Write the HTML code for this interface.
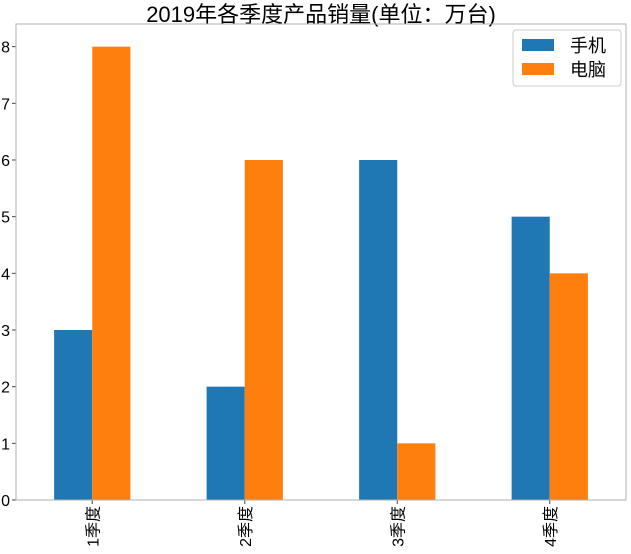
<!DOCTYPE html>
<html><head><meta charset="utf-8"><style>
body{margin:0;background:#fff;}
svg text{font-family:"Liberation Sans","Noto Sans CJK SC",sans-serif;fill:#000;}
</style></head><body>
<svg id="chart" width="631" height="549" xmlns="http://www.w3.org/2000/svg">
<text x="321" y="22" font-size="22" text-anchor="middle">2019年各季度产品销量(单位：万台)</text>
<g id="bars"></g>
<g id="yticks"></g>
<g id="xticks"></g>
<rect x="16" y="24" width="610" height="476" fill="none" stroke="#b0b0b0" stroke-width="1"/>
<g>
<rect x="513" y="30" width="108" height="56" fill="#fff" stroke="#ccc" rx="3"/>
<g><rect x="522" y="39" width="32" height="12" fill="#1f77b4"/><text x="570" y="52" font-size="18">手机</text></g>
<g><rect x="522" y="63" width="32" height="12" fill="#ff7f0e"/><text x="570" y="76" font-size="18">电脑</text></g>
</g>
</svg>
<script>
const categories=["1季度","2季度","3季度","4季度"];
const phone=[3,2,6,5];
const computer=[8,6,1,4];
const yTicks=[0,1,2,3,4,5,6,7,8];
const NS="http://www.w3.org/2000/svg";
const L=16,R=626,T=24,B=500,yMax=8.4;
const xs=i=>L+(i+0.5)*(R-L)/categories.length;
const ys=v=>B-v/yMax*(B-T);
const unit=(R-L)/categories.length;
const bw=unit*0.25;
function mk(tag,attrs,parent){const e=document.createElementNS(NS,tag);for(const k in attrs)e.setAttribute(k,attrs[k]);document.getElementById(parent).appendChild(e);return e;}
categories.forEach((c,i)=>{
 const cx=xs(i);
 const b1=mk("rect",{x:cx-bw,y:ys(phone[i]),width:bw,height:B-ys(phone[i]),fill:"#1f77b4"},"bars");
 
 
 const b2=mk("rect",{x:cx,y:ys(computer[i]),width:bw,height:B-ys(computer[i]),fill:"#ff7f0e"},"bars");
 
 
 mk("line",{x1:cx,x2:cx,y1:B,y2:B+4,stroke:"#444"},"xticks");
 const t=mk("text",{x:0,y:0,"font-size":"16","text-anchor":"end",transform:`translate(${cx+6},${B+6}) rotate(-90)`},"xticks");
 t.textContent=c;
 
 
});
yTicks.forEach(v=>{
 const y=ys(v);
 mk("line",{x1:L-4,x2:L,y1:y,y2:y,stroke:"#444"},"yticks");
 const t=mk("text",{x:L-6,y:y+6,"font-size":"16","text-anchor":"end"},"yticks");
 t.textContent=v;
 
 
});
</script>
</body></html>
